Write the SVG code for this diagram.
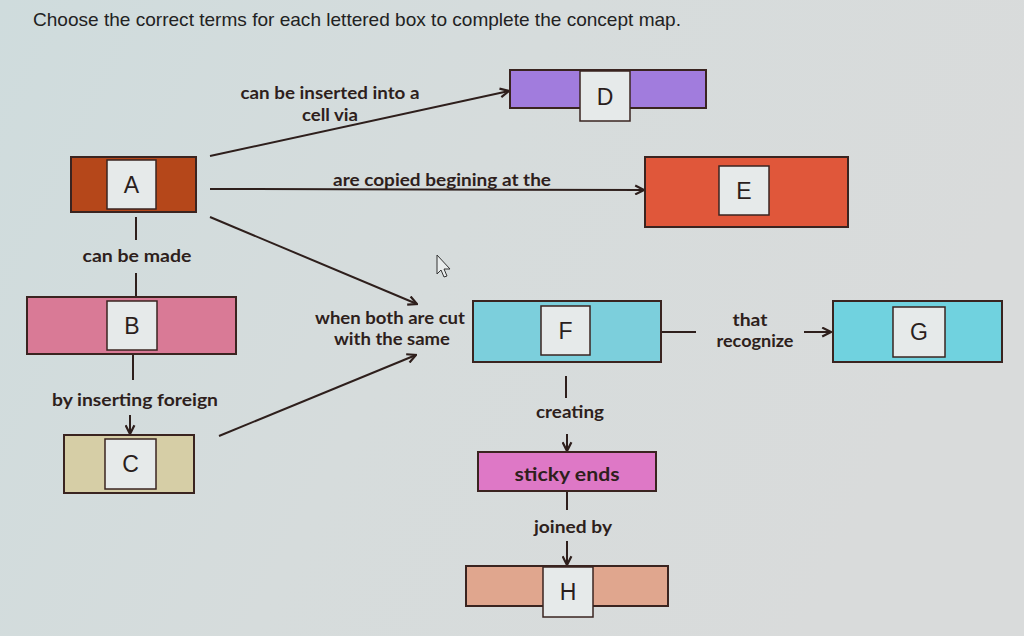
<svg xmlns="http://www.w3.org/2000/svg" width="1024" height="636" viewBox="0 0 1024 636">
<defs>
<linearGradient id="bg" x1="0" y1="0" x2="1" y2="0.3">
<stop offset="0" stop-color="#cfdcdd"/>
<stop offset="0.5" stop-color="#d6dcdc"/>
<stop offset="1" stop-color="#d9dbdb"/>
</linearGradient>
<marker id="arr" viewBox="0 0 10 10" markerWidth="11" markerHeight="11" refX="9" refY="5" orient="auto" markerUnits="userSpaceOnUse">
<path d="M1,1 L9,5 L1,9" fill="none" stroke="#2e1f1c" stroke-width="2" stroke-linejoin="miter"/>
</marker>
</defs>
<style>
.box{stroke:#3a2420;stroke-width:2}
.slot{fill:#e6eaea;stroke:#3a2420;stroke-width:1.5}
.let{font-family:"Liberation Sans",Arial,sans-serif;font-size:23px;fill:#2a1e1c;text-anchor:middle}
.lbl{font-family:Lato,"Liberation Sans",sans-serif;font-weight:bold;font-size:17px;fill:#2e1f1c;text-anchor:middle}
.ln{stroke:#2e1f1c;stroke-width:2;fill:none}
.title{font-family:"Liberation Sans",Arial,sans-serif;font-size:19px;fill:#222}
</style>
<rect width="1024" height="636" fill="url(#bg)"/>
<text class="title" x="33" y="26" textLength="648" lengthAdjust="spacingAndGlyphs">Choose the correct terms for each lettered box to complete the concept map.</text>

<g id="connectors">
<line class="ln" x1="210" y1="156" x2="509" y2="91" marker-end="url(#arr)"/>
<line class="ln" x1="210" y1="189" x2="644" y2="190" marker-end="url(#arr)"/>
<line class="ln" x1="210" y1="217" x2="417" y2="304" marker-end="url(#arr)"/>
<line class="ln" x1="136" y1="217" x2="136" y2="240"/>
<line class="ln" x1="136" y1="273" x2="136" y2="297"/>
<line class="ln" x1="133" y1="355" x2="133" y2="380"/>
<line class="ln" x1="130" y1="415" x2="130" y2="434" marker-end="url(#arr)"/>
<line class="ln" x1="219" y1="436" x2="416" y2="355" marker-end="url(#arr)"/>
<line class="ln" x1="661" y1="332" x2="696" y2="332"/>
<line class="ln" x1="804" y1="332" x2="831" y2="332" marker-end="url(#arr)"/>
<line class="ln" x1="566" y1="376" x2="566" y2="398"/>
<line class="ln" x1="567" y1="434" x2="567" y2="451" marker-end="url(#arr)"/>
<line class="ln" x1="567" y1="491" x2="567" y2="510"/>
<line class="ln" x1="567" y1="541" x2="567" y2="565" marker-end="url(#arr)"/>
<text class="lbl" x="330" y="99" textLength="179" lengthAdjust="spacingAndGlyphs">can be inserted into a</text>
<text class="lbl" x="330" y="121" textLength="56" lengthAdjust="spacingAndGlyphs">cell via</text>
<text class="lbl" x="442" y="186" textLength="218" lengthAdjust="spacingAndGlyphs">are copied begining at the</text>
<text class="lbl" x="137" y="262" textLength="109" lengthAdjust="spacingAndGlyphs">can be made</text>
<text class="lbl" x="135" y="406" textLength="166" lengthAdjust="spacingAndGlyphs">by inserting foreign</text>
<text class="lbl" x="390" y="324" textLength="150" lengthAdjust="spacingAndGlyphs">when both are cut</text>
<text class="lbl" x="392" y="345" textLength="116" lengthAdjust="spacingAndGlyphs">with the same</text>
<text class="lbl" x="750" y="326" textLength="35" lengthAdjust="spacingAndGlyphs">that</text>
<text class="lbl" x="755" y="347" textLength="77" lengthAdjust="spacingAndGlyphs">recognize</text>
<text class="lbl" x="570" y="418" textLength="68" lengthAdjust="spacingAndGlyphs">creating</text>
<text class="lbl" x="573" y="533" textLength="78" lengthAdjust="spacingAndGlyphs">joined by</text>
</g>

<g id="node-A">
<rect class="box" x="71" y="157" width="125" height="55" fill="#b5471a"/>
<rect class="slot" x="107" y="160" width="49" height="49"/>
<text class="let" x="131.5" y="193">A</text>
</g>
<g id="node-D">
<rect class="box" x="510" y="70" width="196" height="38" fill="#a17cdd"/>
<rect class="slot" x="580" y="71" width="50" height="50"/>
<text class="let" x="605" y="105">D</text>
</g>
<g id="node-E">
<rect class="box" x="645" y="157" width="203" height="70" fill="#e0573a"/>
<rect class="slot" x="719" y="166" width="50" height="49"/>
<text class="let" x="744" y="199">E</text>
</g>
<g id="node-B">
<rect class="box" x="27" y="297" width="209" height="57" fill="#d97a96"/>
<rect class="slot" x="107" y="301" width="50" height="49"/>
<text class="let" x="132" y="334">B</text>
</g>
<g id="node-C">
<rect class="box" x="64" y="435" width="130" height="58" fill="#d6cea6"/>
<rect class="slot" x="105" y="439" width="51" height="50"/>
<text class="let" x="130.5" y="472">C</text>
</g>
<g id="node-F">
<rect class="box" x="473" y="301" width="188" height="61" fill="#7ccfdc"/>
<rect class="slot" x="541" y="306" width="49" height="49"/>
<text class="let" x="565.5" y="339">F</text>
</g>
<g id="node-G">
<rect class="box" x="833" y="301" width="169" height="61" fill="#70d2df"/>
<rect class="slot" x="893" y="307" width="52" height="50"/>
<text class="let" x="919" y="340">G</text>
</g>
<g id="node-sticky">
<rect class="box" x="478" y="452" width="178" height="39" fill="#de78c6"/>
<text class="lbl" x="567" y="481" textLength="105" lengthAdjust="spacingAndGlyphs" style="font-size:18px">sticky ends</text>
</g>
<g id="node-H">
<rect class="box" x="466" y="566" width="202" height="40" fill="#e0a68e"/>
<rect class="slot" x="543" y="567" width="50" height="50"/>
<text class="let" x="568" y="600">H</text>
</g>
<path d="M437,255 L437,274 L441,270 L444,277 L447,276 L444,269 L450,269 Z" fill="#e8ecec" stroke="#333" stroke-width="1"/>
</svg>
